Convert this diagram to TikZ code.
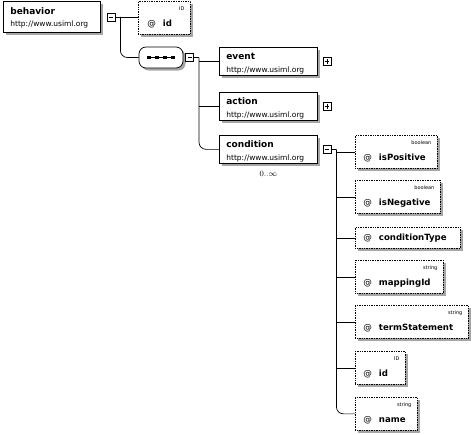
\documentclass[tikz,border=0pt]{standalone}
\usepackage{fontspec}
\setmainfont{DejaVu Sans}
\usetikzlibrary{positioning,shadows}

\tikzset{
  shade box/.style={drop shadow={shadow xshift=2.5pt, shadow yshift=-2.5pt, fill=black!35, opacity=1}},
  elem/.style={draw, fill=white, anchor=north west, inner sep=0pt, minimum width=98pt, minimum height=28pt, shade box},
  attr/.style={draw, densely dotted, fill=white, anchor=north west, inner sep=0pt, minimum height=33pt, shade box},
  ttl/.style={anchor=west, inner sep=0pt, font=\bfseries\fontsize{9}{10}\selectfont},
  urlt/.style={anchor=west, inner sep=0pt, font=\fontsize{7.5}{8}\selectfont},
  typ/.style={anchor=east, inner sep=0pt, font=\fontsize{5}{6}\selectfont},
  aname/.style={anchor=west, inner sep=0pt, font=\fontsize{8.6}{10}\selectfont},
  tog/.style={draw, solid, fill=white, minimum size=8pt, inner sep=0pt},
  minus box/.style={tog, path picture={\draw[line width=0.7pt] ([xshift=1.8pt]path picture bounding box.west) -- ([xshift=-1.8pt]path picture bounding box.east);}},
  plus box/.style={tog, path picture={\draw[line width=0.7pt] ([xshift=1.8pt]path picture bounding box.west) -- ([xshift=-1.8pt]path picture bounding box.east) ([yshift=1.8pt]path picture bounding box.south) -- ([yshift=-1.8pt]path picture bounding box.north);}},
}

\begin{document}
\begin{tikzpicture}[x=1pt, y=-1pt, line width=0.7pt]
	\useasboundingbox (0,0) rectangle (474,434);

	% root element and its id
	\node[elem, minimum width=97pt, minimum height=31pt] (behavior) at (3,1) {};
	\node[ttl] (behaviort) at ([xshift=7pt,yshift=-10pt]behavior.north west) {behavior};
	\node[urlt] (behavioru) at ([xshift=7pt,yshift=-23pt]behavior.north west) {http://www.usiml.org};
	\node[minus box, right=6pt of behavior] (bminus) {};
	\coordinate (bjoin) at ([xshift=5pt]bminus.east);

	\node[attr, minimum width=52pt] (rid) at (138,1) {};
	\node[typ] (ridt) at ([xshift=-6pt,yshift=-8pt]rid.north east) {ID};
	\node[aname] (ridn) at ([xshift=9pt,yshift=-23pt]rid.north west) {@\hspace{7pt}\textbf{id}};

	% sequence
	\node[draw, fill=white, rounded corners=7pt, minimum width=44pt, minimum height=21pt, shade box] (seq) at (161,57.5) {};
	\draw[line width=0.8pt] ([xshift=-12pt]seq.center) -- ([xshift=12pt]seq.center);
	\foreach \d in {-12,-4,4,12}
		\fill ([xshift=\d pt]seq.center) +(-1.6,-1.6) rectangle +(1.6,1.6);
	\node[minus box, right=2pt of seq] (sminus) {};
	\coordinate (sjoin) at ([xshift=5pt]sminus.east);

	\draw (bminus.east) -- (rid.west |- bminus.east);
	\draw[rounded corners=7pt] (bjoin) |- (seq.west);

	% children
	\foreach \nm/\yy in {event/47, action/92, condition/135} {
		\node[elem] (\nm) at (219,\yy) {};
		\node[ttl] (\nm t) at ([xshift=7pt,yshift=-9pt]\nm.north west) {\nm};
		\node[urlt] (\nm u) at ([xshift=7pt,yshift=-23pt]\nm.north west) {http://www.usiml.org};
	}
	\node[plus box, right=5pt of event] (eplus) {};
	\node[plus box, right=5pt of action] (aplus) {};
	\node[minus box, right=5pt of condition] (cminus) {};
	\node[below=7pt of condition, inner sep=0pt, font=\fontsize{8}{9}\selectfont] (card) {$0..\infty$};

	\draw (sminus.east) -- (sjoin);
	\draw (sjoin |- event.west) -- (event.west);
	\draw (sjoin |- action.west) -- (action.west);
	\draw[rounded corners=7pt] (sjoin) |- (condition.west);

	% attributes of condition
	\coordinate (cjoin) at ([xshift=5pt]cminus.east);
	\draw (cminus.east) -- (cjoin);

	\node[attr, minimum width=105pt, minimum height=21pt] (ctype) at (355,227) {};
	\node[aname] (ctypen) at ([xshift=8pt]ctype.west) {@\hspace{7pt}\textbf{conditionType}};
	\draw (cjoin |- ctype.west) -- (ctype.west);

	\foreach \nm/\ty/\yy/\w [count=\i] in {isPositive/boolean/135/82, isNegative/boolean/180/85, mappingId/string/260/88, termStatement/string/305/113, id/ID/351/50} {
		\node[attr, minimum width=\w pt] (a\i) at (355,\yy) {};
		\node[typ] (t\i) at ([xshift=-6pt,yshift=-8pt]a\i.north east) {\ty};
		\node[aname] (n\i) at ([xshift=8pt,yshift=-23pt]a\i.north west) {@\hspace{7pt}\textbf{\nm}};
		\draw (cjoin |- a\i.west) -- (a\i.west);
	}

	\node[attr, minimum width=62pt] (aname) at (355,397) {};
	\node[typ] (anamet) at ([xshift=-6pt,yshift=-8pt]aname.north east) {string};
	\node[aname] (anamen) at ([xshift=8pt,yshift=-23pt]aname.north west) {@\hspace{7pt}\textbf{name}};
	\draw[rounded corners=7pt] (cjoin) |- (aname.west);
\end{tikzpicture}
\end{document}
